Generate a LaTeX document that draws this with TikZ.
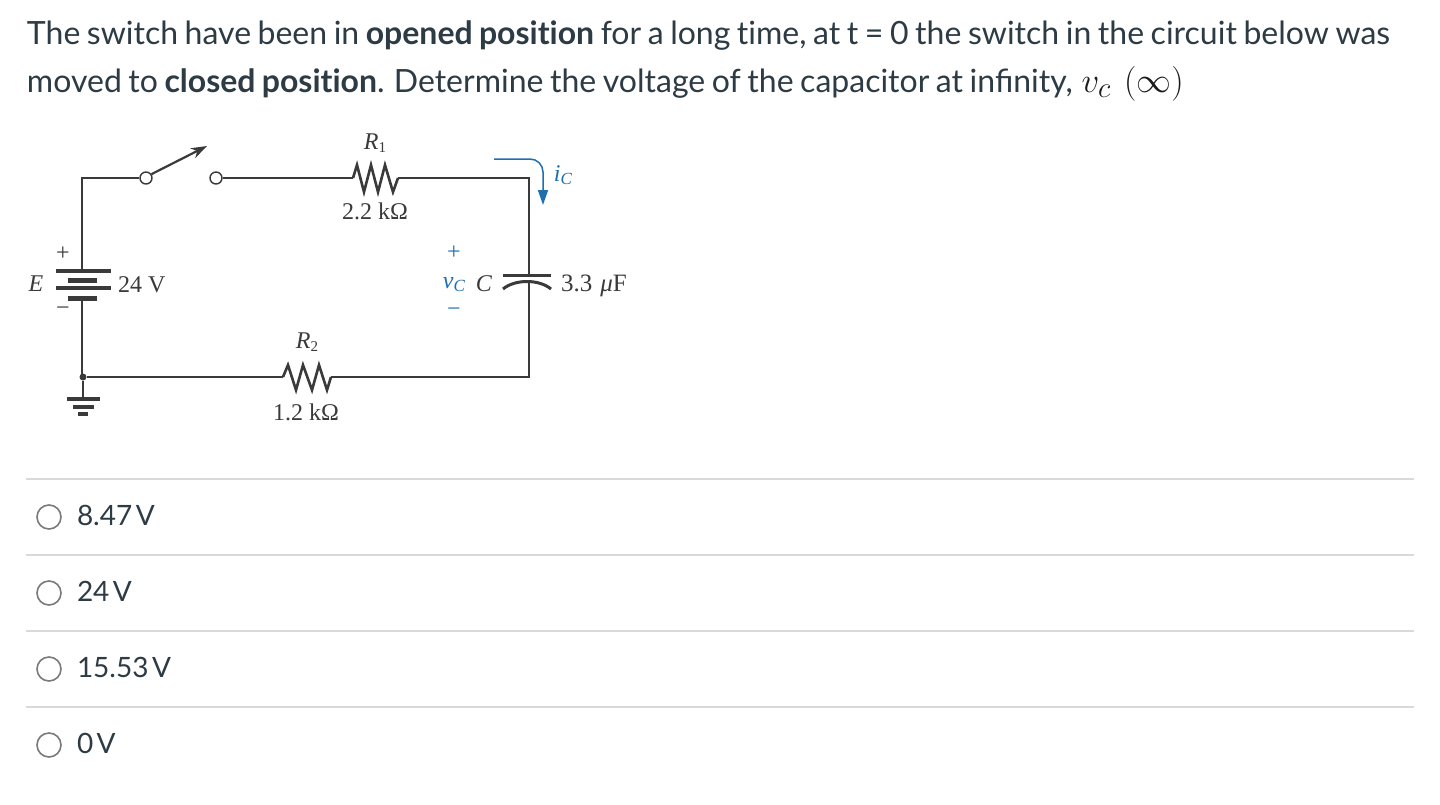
\documentclass[tikz,border=0pt]{standalone}
\usepackage{fontspec}
\setmainfont[WordSpace=0.8]{Lato}
\newfontfamily\circuitfont{Liberation Serif}
\usetikzlibrary{arrows.meta}
\definecolor{txt}{HTML}{2D3B45}
\definecolor{mathc}{HTML}{1A1A1A}
\definecolor{wire}{HTML}{3A3A3A}
\definecolor{cblue}{HTML}{1F6FB0}
\definecolor{rulec}{HTML}{D9D9D9}
\definecolor{radioc}{HTML}{7A7A7A}
\newcommand{\nt}{t\kern0pt i}
\newcommand{\sv}{\hspace{3.5pt}}
\tikzset{
  x=1pt,y=-1pt,
  body/.style={inner sep=0pt,outer sep=0pt,anchor=base west,text=txt,font=\fontsize{32}{36}\selectfont},
  opt/.style={inner sep=0pt,outer sep=0pt,anchor=base west,text=txt,font=\fontsize{28}{34}\selectfont},
  radio/.style={circle,draw=radioc,line width=1.6pt,minimum size=24pt,inner sep=0pt,fill=white},
  sep/.style={draw=rulec,line width=1.4pt},
  wirec/.style={draw=wire,line width=2pt,line join=miter},
  zig/.style={draw=wire,line width=2.6pt,line join=miter},
  term/.style={circle,draw=wire,line width=1.4pt,fill=white,minimum size=12pt,inner sep=0pt},
  plate/.style={draw=wire,line width=3.6pt},
  cir/.style={inner sep=0pt,outer sep=0pt,text=wire,font=\circuitfont\fontsize{24}{26}\selectfont},
  cirb/.style={cir,text=cblue},
}
\begin{document}
\begin{tikzpicture}
\useasboundingbox (0,0) rectangle (1440,804);
\fill[white] (0,0) rectangle (1440,804);
% question text
\node[body] (line1) at (27,44) {The switch have been in \textbf{opened posi\nt on} for a long \nt me, at t = 0 the switch in the circuit below was};
\node[body] (line2) at (27,92) {moved to \textbf{closed posi\nt on}. Determine the voltage of the capacitor at infinity,\hspace{9pt}{\color{mathc}\scalebox{1.4}{$v_c$}\hspace{13pt}\scalebox{1.4}{$(\infty)$}}};
% circuit coordinates
\coordinate (tl) at (82,178);
\coordinate (tr) at (529,178);
\coordinate (br) at (529,377);
\coordinate (batT) at (82,271);
\coordinate (batB) at (82,298);
\coordinate (capT) at (529,275);
\coordinate (capB) at (529,281);
\coordinate (r1a) at (353,178);
\coordinate (r1b) at (398,178);
\coordinate (r2a) at (283,377);
\coordinate (r2b) at (331,377);
\coordinate (gnd) at (83,399);
\coordinate (batWire) at (82,377);
\coordinate (armEnd) at (207,146);
\node[circle,fill=wire,minimum size=7pt,inner sep=0pt] (dot) at (83,377) {};
\node[term] (s1) at (146,178) {};
\node[term] (s2) at (216,178) {};
% wires
\draw[wirec] (batT) -- (tl) -- (s1);
\draw[wirec] (s2) -- (r1a);
\draw[wirec] (r1b) -- (tr) -- (capT);
\draw[wirec] (capB) -- (br) -- (r2b);
\draw[wirec] (r2a) -- (dot);
\draw[wirec] (batB) -- (batWire);
\draw[wirec] (dot) -- (gnd);
% resistors
\draw[zig] (r1a) -- (357,165) -- (364,192) -- (371,165) -- (378,192) -- (385,165) -- (393,192) -- (r1b);
\draw[zig] (r2a) -- (288,365) -- (296,390) -- (303,365) -- (312,390) -- (319,365) -- (327,390) -- (r2b);
% switch arm
\draw[draw=wire,line width=2.2pt,-{Stealth[length=16pt,width=11pt]}] (s1.35) -- (armEnd);
% battery
\draw[plate] (56,271) -- (111,271);
\draw[plate,line width=5pt] (68,280) -- (97,280);
\draw[plate] (56,288) -- (111,288);
\draw[plate,line width=5pt] (68,298) -- (97,298);
% ground
\draw[plate] (67,399) -- (100,399);
\draw[plate] (73,407) -- (94,407);
\draw[plate] (78,414) -- (88,414);
% capacitor
\draw[plate,line width=3pt] (503,275) -- (551,275);
\draw[plate,line width=3pt] (503,289) .. controls (515,279) and (539,279) .. (551,289);
% current arrow
\coordinate (iStart) at (494,159);
\coordinate (iEnd) at (543,205);
\draw[draw=cblue,line width=1.5pt,-{Triangle[length=15pt,width=10pt]},rounded corners=13pt] (iStart) -- (543,159) -- (iEnd);
% circuit labels
\node[cir] (lplus) at (63,254) {+};
\node[cir] (lminus) at (63,311) {−};
\node[cir,font=\circuitfont\itshape\fontsize{24}{26}\selectfont] (lE) at (36,284) {E};
\node[cir,anchor=base west] (l24) at (118,292) {24 V};
\node[cir] (lR1) at (375,143) {\textit{R}\raisebox{-3pt}{\fontsize{15}{15}\selectfont 1}};
\node[cir] (lR1v) at (375,211) {2.2 kΩ};
\node[cir] (lR2) at (307,342) {\textit{R}\raisebox{-3pt}{\fontsize{15}{15}\selectfont 2}};
\node[cir] (lR2v) at (306,412) {1.2 kΩ};
\node[cirb] (lip) at (454,253) {+};
\node[cirb] (lim) at (454,312) {−};
\node[cirb] (lv) at (454,285) {\textit{v}\raisebox{-3pt}{\fontsize{17}{17}\selectfont\textit{C}}};
\node[cir] (lC) at (484,284) {\textit{C}};
\node[cir,anchor=base west,font=\circuitfont\fontsize{25}{26}\selectfont] (lcap) at (561,291) {3.3\hspace{8pt}\textit{μ}F};
\node[cirb] (lic) at (563,175) {\textit{i}\raisebox{-3pt}{\fontsize{17}{17}\selectfont\textit{C}}};
% separators
\coordinate (s0a) at (26,479); \coordinate (s0b) at (1414,479);
\coordinate (s1a) at (26,555); \coordinate (s1b) at (1414,555);
\coordinate (s2a) at (26,631); \coordinate (s2b) at (1414,631);
\coordinate (s3a) at (26,707); \coordinate (s3b) at (1414,707);
\draw[sep] (s0a) -- (s0b);
\draw[sep] (s1a) -- (s1b);
\draw[sep] (s2a) -- (s2b);
\draw[sep] (s3a) -- (s3b);
% options
\node[radio] (ra) at (49,517) {};
\node[radio] (rb) at (49,593) {};
\node[radio] (rc) at (49,669) {};
\node[radio] (rd) at (49,745) {};
\node[opt] (oa) at (77,525) {8.47\sv V};
\node[opt] (ob) at (77,601) {24\sv V};
\node[opt] (oc) at (77,677) {15.53\sv V};
\node[opt] (od) at (77,753) {0\sv V};
\end{tikzpicture}
\end{document}
